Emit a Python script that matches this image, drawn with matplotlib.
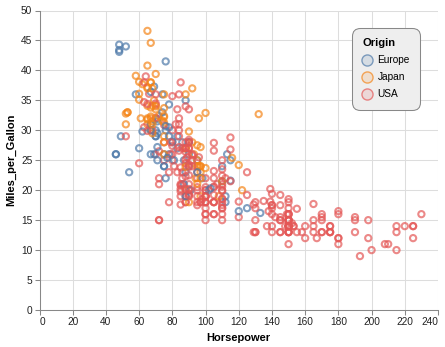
import matplotlib
matplotlib.use("Agg")
import matplotlib.pyplot as plt
from matplotlib.lines import Line2D

plt.rcParams['font.family'] = ['Liberation Sans', 'DejaVu Sans']

# ---- data (Horsepower, Miles_per_Gallon, Origin), in data order ----
horsepower = [
    130, 165, 150, 150, 140, 198, 220, 215, 225, 190, 170, 160, 150, 225, 95, 95, 97, 85, 88, 46,
    87, 90, 95, 113, 90, 215, 200, 210, 193,
    88, 90, 95, 100, 105, 100, 88, 100, 165, 175, 153, 150, 180, 170, 175, 110, 72, 100, 88, 86,
    90, 70, 76, 65, 69, 60, 70,
    95, 80, 54, 90, 86, 165, 175, 150, 153, 150, 208, 155, 160, 190, 97, 150, 130, 140, 150, 112,
    76, 87, 69, 86, 92, 97, 80, 88,
    175, 150, 145, 137, 150, 198, 150, 158, 150, 215, 225, 175, 105, 100, 100, 88, 95, 46, 150, 167,
    170, 180, 100, 88, 72, 94, 90, 85, 107, 90, 145, 230, 49, 75, 91, 112, 150, 110, 122, 180,
    95, 100, 100, 67, 80, 65, 75, 100, 110, 105, 140, 150, 150, 140, 150, 83, 67, 78, 52, 61,
    75, 75, 75, 97, 93, 67,
    95, 105, 72, 72, 170, 145, 150, 148, 110, 105, 110, 95, 110, 110, 129, 75, 83, 100, 78, 96,
    71, 97, 97, 70, 90, 95, 88, 98, 115, 53,
    86, 81, 92, 79, 83, 140, 150, 120, 152, 100, 105, 81, 90, 52, 60, 70, 53, 100, 78, 110,
    95, 71, 70, 75, 72, 102, 150, 88, 108, 120, 180, 145, 130, 150,
    68, 80, 58, 96, 70, 145, 110, 145, 130, 110, 105, 100, 98, 180, 170, 190, 149, 78, 88, 75,
    89, 63, 83, 67, 78, 97, 110, 110,
    48, 66, 52, 70, 60, 110, 140, 139, 105, 95, 85, 88, 100, 90, 105, 85, 110, 120, 145, 165,
    139, 140, 68, 95, 97, 75, 95, 105, 85, 88, 103, 125, 115, 133, 71, 68,
    115, 85, 88, 90, 110, 130, 129, 138, 135, 155, 142, 125, 150, 71, 65, 80, 80, 77, 125, 71,
    90, 70, 70, 65, 69, 90, 115, 115, 90,
    76, 60, 70, 65, 90, 88, 90, 90, 78, 90, 75, 92, 75, 65, 105, 65, 48, 48, 67, 67,
    67, 67, 62, 132, 100, 88, 72,
    84, 84, 92, 110, 84, 58, 64, 60, 67, 65, 62, 68, 63, 65, 65, 74, 75, 75, 100, 74,
    80, 76, 116, 120, 110, 105, 88, 85,
    88, 88, 88, 84, 84, 90, 92, 74, 68, 68, 63, 70, 88, 75, 70, 67, 67, 67, 110, 85,
    92, 112, 96, 84, 90, 86, 52, 84, 79, 82,
]
miles_per_gallon = [
    18, 15, 18, 16, 17, 15, 14, 14, 14, 15, 15, 14, 15, 14, 24, 22, 18, 21, 27, 26,
    25, 24, 25, 26, 21, 10, 10, 11, 9,
    27, 28, 25, 19, 16, 17, 19, 18, 14, 14, 14, 14, 12, 13, 13, 18, 22, 19, 18, 23,
    28, 30, 30, 31, 35, 27, 26,
    24, 25, 23, 20, 21, 13, 14, 15, 14, 17, 11, 13, 12, 13, 19, 15, 13, 13, 14, 18,
    22, 21, 26, 22, 28, 23, 28, 27,
    13, 14, 13, 14, 15, 12, 13, 13, 14, 13, 12, 13, 18, 16, 18, 18, 23, 26, 11, 12,
    13, 12, 18, 20, 21, 22, 18, 19, 21, 26, 15, 16, 29, 24, 20, 19, 15, 24, 20, 11,
    20, 19, 15, 31, 26, 32, 25, 16, 16, 18, 16, 13, 14, 14, 14, 29, 26, 26, 31, 32,
    28, 24, 26, 24, 26, 31,
    19, 18, 15, 15, 16, 15, 16, 14, 17, 16, 15, 18, 21, 20, 13, 29, 23, 20, 23, 24,
    25, 24, 18, 29, 19, 23, 23, 22, 25, 33,
    28, 25, 25, 26, 27, 17.5, 16, 15.5, 14.5, 22, 22, 24, 22.5, 29, 24.5, 29, 33, 20, 18, 18.5,
    17.5, 29.5, 32, 28, 26.5, 20, 13, 19, 19, 16.5, 16.5, 13, 13, 13,
    31.5, 30, 36, 25.5, 33.5, 17.5, 17, 15.5, 15, 17.5, 20.5, 19, 18.5, 16, 15.5, 15.5, 16, 29, 24.5, 26,
    25.5, 30.5, 33.5, 30, 30.5, 22, 21.5, 21.5,
    43.1, 36.1, 32.8, 39.4, 36.1, 19.9, 19.4, 20.2, 19.2, 20.5, 20.2, 25.1, 20.5, 19.4, 20.6, 20.8, 18.6, 18.1, 19.2, 17.7,
    18.1, 17.5, 30, 27.5, 27.2, 30.9, 21.1, 23.2, 23.8, 23.9, 20.3, 17, 21.6, 16.2, 31.5, 29.5,
    21.5, 19.8, 22.3, 20.2, 20.6, 17, 17.6, 16.5, 18.2, 16.9, 15.5, 19.2, 18.5, 31.9, 34.1, 35.7, 27.4, 25.4, 23, 27.2,
    23.9, 34.2, 34.5, 31.8, 37.3, 28.4, 28.8, 26.8, 33.5,
    41.5, 38.1, 32.1, 37.2, 28, 26.4, 24.3, 19.1, 34.3, 29.8, 31.3, 37, 32.2, 46.6, 27.9, 40.8, 44.3, 43.4, 36.4, 30,
    44.6, 33.8, 29.8, 32.7, 23.7, 35, 32.4,
    27.2, 26.6, 25.8, 23.5, 30, 39.1, 39, 35.1, 32.3, 37, 37.7, 34.1, 34.7, 34.4, 29.9, 33, 33.7, 32.4, 32.9, 31.6,
    28.1, 30.7, 25.4, 24.2, 22.4, 26.6, 20.2, 17.6,
    28, 27, 34, 31, 29, 27, 24, 36, 37, 31, 38, 36, 36, 36, 34, 38, 32, 38, 25, 38,
    26, 22, 32, 36, 27, 27, 44, 32, 28, 31,
]
origin = [
    'U', 'U', 'U', 'U', 'U', 'U', 'U', 'U', 'U', 'U', 'U', 'U', 'U', 'U', 'J', 'U', 'U', 'U', 'J', 'E',
    'E', 'E', 'E', 'E', 'U', 'U', 'U', 'U', 'U',
    'J', 'U', 'J', 'U', 'U', 'U', 'U', 'U', 'U', 'U', 'U', 'U', 'U', 'U', 'U', 'U', 'U', 'U', 'U', 'U',
    'E', 'E', 'E', 'J', 'J', 'E', 'U',
    'J', 'U', 'E', 'U', 'U', 'U', 'U', 'U', 'U', 'U', 'U', 'U', 'U', 'U', 'J', 'U', 'U', 'U', 'U', 'E',
    'E', 'E', 'E', 'U', 'J', 'J', 'U', 'J',
    'U', 'U', 'U', 'U', 'U', 'U', 'U', 'U', 'U', 'U', 'U', 'U', 'U', 'U', 'U', 'U', 'U', 'E', 'U', 'U',
    'U', 'U', 'U', 'J', 'U', 'J', 'J', 'U', 'U', 'E', 'U', 'U', 'E', 'E', 'E', 'E', 'U', 'E', 'J', 'U',
    'U', 'U', 'U', 'J', 'U', 'J', 'U', 'U', 'U', 'U', 'U', 'U', 'U', 'U', 'U', 'E', 'E', 'E', 'J', 'J',
    'U', 'E', 'E', 'J', 'J', 'E',
    'U', 'U', 'U', 'U', 'U', 'U', 'U', 'U', 'U', 'U', 'U', 'U', 'U', 'U', 'U', 'J', 'U', 'U', 'U', 'J',
    'E', 'J', 'U', 'E', 'U', 'E', 'E', 'E', 'E', 'J',
    'E', 'E', 'U', 'U', 'E', 'U', 'U', 'U', 'U', 'U', 'U', 'U', 'U', 'U', 'U', 'E', 'J', 'U', 'U', 'U',
    'U', 'E', 'J', 'J', 'U', 'E', 'U', 'E', 'J', 'E', 'U', 'U', 'U', 'U',
    'J', 'U', 'E', 'U', 'J', 'U', 'U', 'U', 'U', 'U', 'U', 'U', 'U', 'U', 'U', 'U', 'U', 'E', 'U', 'J',
    'U', 'U', 'U', 'J', 'E', 'J', 'E', 'J',
    'E', 'U', 'J', 'J', 'J', 'U', 'U', 'U', 'U', 'U', 'U', 'U', 'U', 'U', 'U', 'U', 'U', 'U', 'U', 'U',
    'U', 'U', 'U', 'J', 'J', 'U', 'J', 'U', 'U', 'J', 'E', 'E', 'E', 'E', 'E', 'J',
    'U', 'U', 'U', 'U', 'U', 'U', 'U', 'U', 'U', 'U', 'U', 'U', 'U', 'E', 'J', 'U', 'U', 'E', 'U', 'E',
    'U', 'U', 'U', 'J', 'E', 'U', 'U', 'U', 'U',
    'E', 'J', 'U', 'J', 'U', 'U', 'U', 'U', 'E', 'J', 'J', 'J', 'J', 'J', 'U', 'J', 'E', 'E', 'E', 'E',
    'J', 'J', 'E', 'J', 'J', 'E', 'J',
    'U', 'U', 'U', 'U', 'U', 'J', 'U', 'J', 'J', 'J', 'J', 'J', 'U', 'U', 'U', 'E', 'J', 'J', 'J', 'J',
    'E', 'E', 'J', 'J', 'U', 'U', 'U', 'U',
    'U', 'U', 'U', 'U', 'U', 'U', 'U', 'E', 'J', 'J', 'U', 'U', 'J', 'J', 'J', 'J', 'J', 'J', 'U', 'U',
    'U', 'U', 'J', 'U', 'U', 'U', 'E', 'U', 'U', 'U',
]
origin_names = {'E': 'Europe', 'J': 'Japan', 'U': 'USA'}
categories = ['Europe', 'Japan', 'USA']
palette = {'Europe': '#4c78a8', 'Japan': '#f58518', 'USA': '#e45756'}
x_ticks = list(range(0, 241, 20))
y_ticks = list(range(0, 51, 5))

n = min(len(horsepower), len(miles_per_gallon), len(origin))
colors = [palette[origin_names[o]] for o in origin[:n]]

W, H = 445, 347
fig = plt.figure(figsize=(W / 100, H / 100), dpi=100)
L, R, T, B = 39.5, 438.0, 10.5, 310.0
ax = fig.add_axes([L / W, 1 - B / H, (R - L) / W, (B - T) / H])

ax.scatter(horsepower[:n], miles_per_gallon[:n], s=20, facecolors='none',
           edgecolors=colors, linewidths=1.5, alpha=0.7, zorder=3)

ax.set_xlim(0, 240)
ax.set_ylim(0, 50)
ax.set_xticks(x_ticks)
ax.set_yticks(y_ticks)
ax.set_xticklabels([str(v) for v in x_ticks])
ax.set_yticklabels([str(v) for v in y_ticks])
xl = ax.get_xticklabels()
xl[0].set_horizontalalignment('left')
xl[-1].set_horizontalalignment('right')

ax.grid(True, color='#dddddd', linewidth=0.75, zorder=0)
ax.set_axisbelow(True)
for s in ['top', 'right']:
    ax.spines[s].set_visible(False)
for s in ['left', 'bottom']:
    ax.spines[s].set_color('#888888')
    ax.spines[s].set_linewidth(0.75)
ax.tick_params(axis='both', length=3.6, width=0.75, color='#888888',
               labelsize=7.3, labelcolor='#222222', pad=1.6)

ax.set_xlabel('Horsepower', fontsize=8, fontweight='bold', labelpad=4)
ax.set_ylabel('Miles_per_Gallon', fontsize=8, fontweight='bold', labelpad=3.5)

# legend
handles = [Line2D([0], [0], marker='o', linestyle='none', markersize=8.0,
                  markerfacecolor=palette[c] + '26', markeredgecolor=palette[c] + 'b0',
                  markeredgewidth=1.0, label=c) for c in categories]
leg = ax.legend(handles=handles, title='Origin', loc='upper left',
                bbox_to_anchor=((352 - L) / (R - L), (B - 28) / (B - T)),
                borderaxespad=0, fontsize=7.3, title_fontsize=8,
                frameon=True, fancybox=True, facecolor='#eeeeee', edgecolor='#888888',
                framealpha=1, handletextpad=0.5, labelspacing=0.7,
                borderpad=1.0, handlelength=1.0)
leg.get_title().set_fontweight('bold')
leg._legend_box.align = 'left'
leg.get_frame().set_linewidth(0.75)
leg.get_frame().set_boxstyle('round', pad=0, rounding_size=0.75)

fig.savefig('out.png', dpi=100)
